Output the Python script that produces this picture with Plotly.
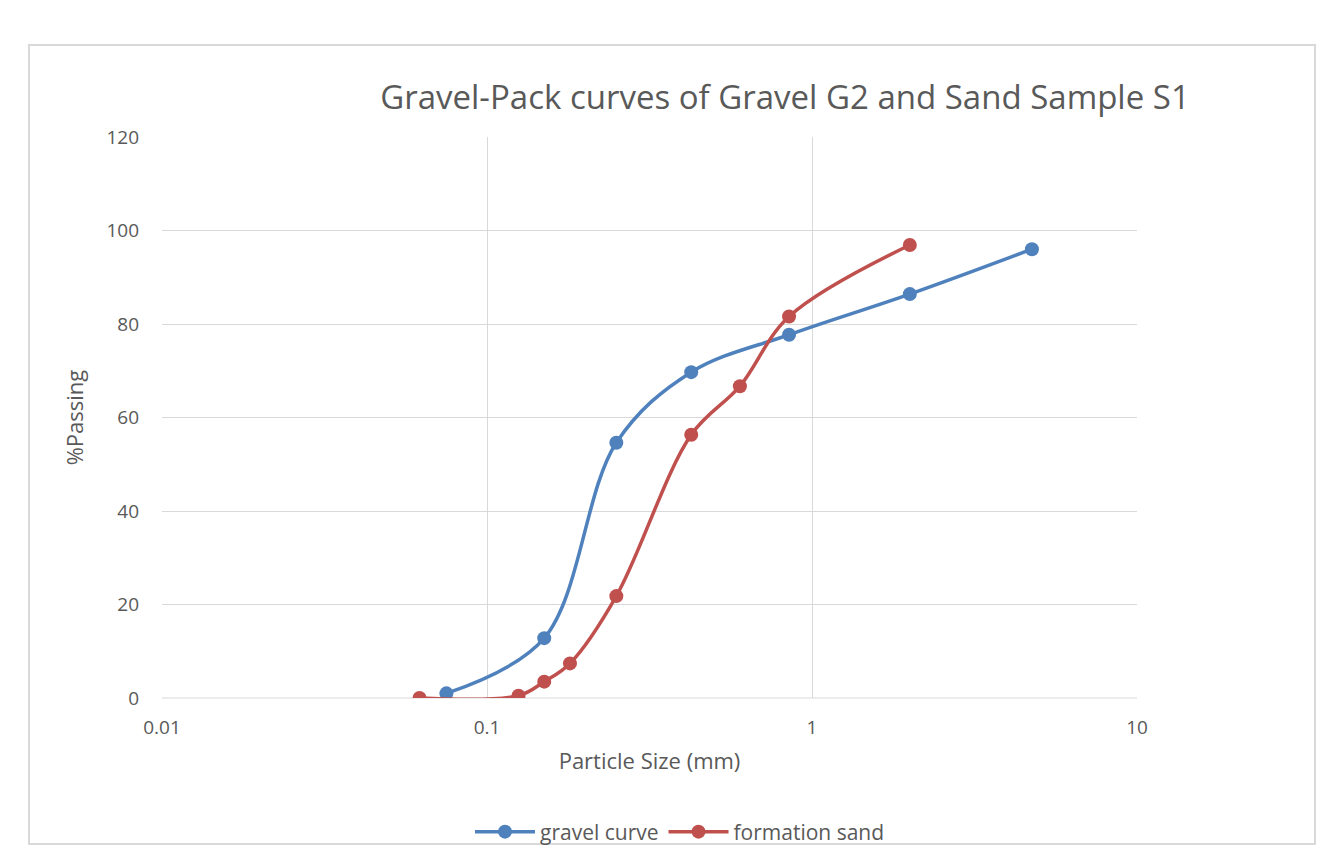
import plotly.graph_objects as go

# Data
gravel_size = [0.075, 0.15, 0.25, 0.425, 0.85, 2.0, 4.75]
gravel_pass = [1.0, 12.8, 54.6, 69.7, 77.7, 86.4, 96.0]
sand_size = [0.062, 0.125, 0.15, 0.18, 0.25, 0.425, 0.6, 0.85, 2.0]
sand_pass = [0.0, 0.5, 3.5, 7.4, 21.8, 56.3, 66.7, 81.6, 96.9]

title_text = "Gravel-Pack curves of Gravel G2 and Sand Sample S1"
x_title = "Particle Size (mm)"
y_title = "%Passing"
x_ticks = [0.01, 0.1, 1, 10]
x_ticklabels = ["0.01", "0.1", "1", "10"]
y_ticks = [0, 20, 40, 60, 80, 100, 120]

BLUE = "#4F81BD"
RED = "#C0504D"
GRID = "#D9D9D9"
TXT = "#595959"
FONT = "Open Sans, sans-serif"

fig = go.Figure()
fig.add_trace(go.Scatter(
    x=gravel_size, y=gravel_pass, name="gravel curve",
    mode="lines+markers",
    line=dict(color=BLUE, width=3.5, shape="spline", smoothing=1.0),
    marker=dict(color=BLUE, size=14),
))
fig.add_trace(go.Scatter(
    x=sand_size, y=sand_pass, name="formation sand",
    mode="lines+markers",
    line=dict(color=RED, width=3.5, shape="spline", smoothing=1.0),
    marker=dict(color=RED, size=14),
))

L, R, T, B = 162, 1137, 137, 698
W, H = 1331, 846
pw, ph = R - L, B - T

def px(xp):
    return (xp - L) / pw

def py(yp):
    return (B - yp) / ph

fig.update_layout(
    width=W, height=H,
    margin=dict(l=L, r=W - R, t=T, b=H - B, autoexpand=False),
    paper_bgcolor="white", plot_bgcolor="white",
    font=dict(family=FONT, color=TXT, size=18),
    title=dict(text=title_text, xref="container", x=785 / W, xanchor="center",
               yref="container", y=1 - 97 / H, yanchor="middle",
               font=dict(size=33, color=TXT, family=FONT)),
    showlegend=True,
    legend=dict(orientation="h", xref="container", x=680 / W, xanchor="center",
                yref="container", y=1 - 832 / H, yanchor="middle",
                font=dict(size=21, color=TXT, family=FONT),
                itemwidth=60, bgcolor="rgba(0,0,0,0)"),
    xaxis=dict(type="log", range=[-2, 1], tickvals=x_ticks, ticktext=x_ticklabels,
               showgrid=True, gridcolor=GRID, gridwidth=1,
               showline=False, zeroline=False, ticks="",
               tickfont=dict(size=19, color=TXT), ticklabelstandoff=16,
               title=dict(text=x_title, font=dict(size=22, color=TXT), standoff=14)),
    yaxis=dict(range=[0, 120], tickvals=y_ticks,
               showgrid=True, gridcolor=GRID, gridwidth=1,
               showline=False, zeroline=False, ticks="",
               tickfont=dict(size=19, color=TXT), ticklabelstandoff=22,
               title=dict(text=y_title, font=dict(size=22, color=TXT), standoff=16)),
    shapes=[
        dict(type="rect", xref="paper", yref="paper",
             x0=px(29), x1=px(1315), y0=py(844), y1=py(45),
             line=dict(color=GRID, width=2), fillcolor="rgba(0,0,0,0)", layer="below"),
        dict(type="line", xref="paper", yref="paper",
             x0=0, x1=1, y0=0, y1=0, line=dict(color=GRID, width=1), layer="below"),
    ],
)

fig.write_html("out.html")
